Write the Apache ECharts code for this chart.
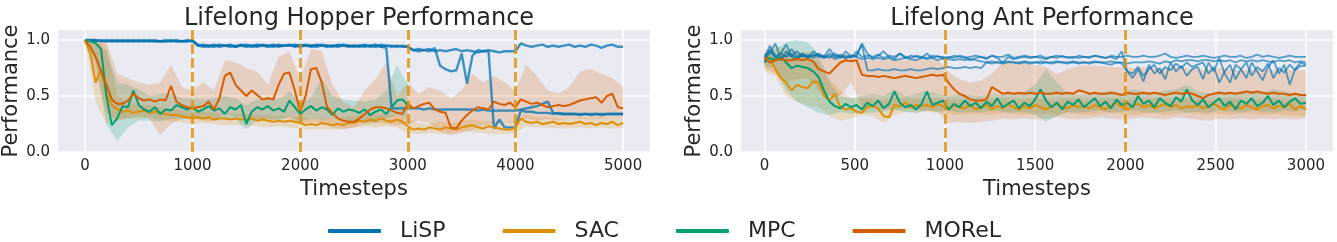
<!DOCTYPE html>
<html>
<head>
    <meta charset="utf-8">
    <title>Lifelong Performance</title>
    <script src="https://cdn.jsdelivr.net/npm/echarts@6/dist/echarts.min.js"></script>
    <style>
        html, body { margin: 0; padding: 0; background: #fff; }
        #chart { width: 1337px; height: 242px; }
    </style>
</head>
<body>
<div id="chart"></div>
<script type="text/javascript">
    // ---- data ----
    // Hopper: means every 50 steps, bands every 100 steps
    const hopperLispA = [
        1.00, 0.99, 1.00, 0.99, 0.99, 1.00, 0.99, 0.99, 1.00, 0.99,
        0.99, 1.00, 0.99, 0.99, 0.99, 1.00, 0.99, 0.99, 0.99, 0.99,
        0.99, 0.95, 0.94, 0.95, 0.96, 0.94, 0.95, 0.95, 0.94, 0.96,
        0.95, 0.94, 0.95, 0.96, 0.95, 0.94, 0.95, 0.95, 0.96, 0.94,
        0.95, 0.96, 0.95, 0.94, 0.95, 0.95, 0.94, 0.96, 0.95, 0.94,
        0.95, 0.95, 0.94, 0.95, 0.96, 0.94, 0.95, 0.94, 0.95, 0.94,
        0.94, 0.91, 0.90, 0.91, 0.92, 0.90, 0.91, 0.90, 0.91, 0.92,
        0.90, 0.91, 0.90, 0.89, 0.90, 0.91, 0.90, 0.89, 0.90, 0.90,
        0.90, 0.97, 0.95, 0.94, 0.95, 0.96, 0.94, 0.95, 0.94, 0.95,
        0.96, 0.94, 0.95, 0.94, 0.96, 0.95, 0.93, 0.95, 0.96, 0.94,
        0.94];
    const hopperLispB = [
        1.00, 1.00, 0.99, 1.00, 0.99, 0.99, 1.00, 0.99, 0.99, 1.00,
        0.99, 0.99, 1.00, 0.99, 0.99, 0.99, 1.00, 0.99, 0.99, 1.00,
        0.99, 0.96, 0.95, 0.94, 0.95, 0.96, 0.95, 0.94, 0.95, 0.95,
        0.94, 0.95, 0.96, 0.95, 0.94, 0.95, 0.96, 0.95, 0.95, 0.95,
        0.96, 0.95, 0.94, 0.95, 0.96, 0.95, 0.95, 0.94, 0.95, 0.95,
        0.94, 0.95, 0.96, 0.94, 0.95, 0.94, 0.93, 0.39, 0.39, 0.39,
        0.39, 0.39, 0.39, 0.38, 0.39, 0.38, 0.38, 0.38, 0.38, 0.38,
        0.38, 0.38, 0.38, 0.37, 0.38, 0.37, 0.37, 0.37, 0.37, 0.37,
        0.37, 0.38, 0.39, 0.40, 0.41, 0.43, 0.45, 0.35, 0.34, 0.34,
        0.34, 0.34, 0.34, 0.34, 0.33, 0.34, 0.34, 0.34, 0.34, 0.34,
        0.34];
    const hopperLispC = [
        0.99, 1.00, 1.00, 0.99, 1.00, 0.99, 0.99, 1.00, 0.99, 0.99,
        1.00, 0.99, 0.99, 1.00, 0.99, 0.99, 0.99, 1.00, 0.99, 0.99,
        1.00, 0.95, 0.96, 0.95, 0.94, 0.95, 0.95, 0.96, 0.94, 0.95,
        0.96, 0.95, 0.94, 0.95, 0.95, 0.96, 0.94, 0.95, 0.95, 0.96,
        0.94, 0.95, 0.95, 0.96, 0.95, 0.94, 0.95, 0.95, 0.96, 0.95,
        0.95, 0.94, 0.95, 0.95, 0.94, 0.96, 0.95, 0.95, 0.94, 0.95,
        0.94, 0.91, 0.92, 0.91, 0.90, 0.93, 0.77, 0.74, 0.72, 0.73,
        0.88, 0.61, 0.86, 0.91, 0.90, 0.90, 0.21, 0.29, 0.22, 0.22,
        0.22, 0.37, 0.36, 0.36, 0.35, 0.35, 0.35, 0.34, 0.35, 0.34,
        0.34, 0.34, 0.33, 0.34, 0.34, 0.34, 0.33, 0.34, 0.34, 0.34,
        0.34];
    const hopperSac = [
        1.00, 0.88, 0.62, 0.74, 0.52, 0.42, 0.38, 0.36, 0.37, 0.35,
        0.36, 0.37, 0.35, 0.36, 0.35, 0.34, 0.33, 0.33, 0.32, 0.31,
        0.30, 0.31, 0.30, 0.31, 0.29, 0.30, 0.30, 0.29, 0.30, 0.29,
        0.29, 0.30, 0.28, 0.29, 0.28, 0.27, 0.28, 0.27, 0.28, 0.27,
        0.26, 0.24, 0.25, 0.24, 0.26, 0.25, 0.24, 0.25, 0.24, 0.26,
        0.26, 0.28, 0.27, 0.29, 0.28, 0.30, 0.28, 0.27, 0.29, 0.27,
        0.23, 0.20, 0.21, 0.20, 0.22, 0.21, 0.20, 0.22, 0.21, 0.20,
        0.22, 0.23, 0.24, 0.22, 0.21, 0.23, 0.22, 0.21, 0.20, 0.20,
        0.22, 0.30, 0.27, 0.26, 0.27, 0.25, 0.26, 0.27, 0.25, 0.26,
        0.25, 0.26, 0.27, 0.25, 0.26, 0.24, 0.26, 0.25, 0.27, 0.24,
        0.26];
    const hopperSacLo = [
        1.00, 0.45, 0.25, 0.30, 0.30, 0.30, 0.31, 0.29, 0.28, 0.26,
        0.25, 0.26, 0.25, 0.24, 0.24, 0.24, 0.23, 0.22, 0.23, 0.22,
        0.21, 0.20, 0.20, 0.20, 0.21, 0.22, 0.23, 0.22, 0.23, 0.22,
        0.17, 0.16, 0.17, 0.16, 0.17, 0.18, 0.18, 0.17, 0.16, 0.16,
        0.17, 0.23, 0.22, 0.22, 0.21, 0.21, 0.22, 0.21, 0.22, 0.21,
        0.22];
    const hopperSacHi = [
        1.00, 1.00, 0.95, 0.50, 0.44, 0.42, 0.42, 0.40, 0.39, 0.37,
        0.36, 0.36, 0.35, 0.35, 0.34, 0.34, 0.33, 0.33, 0.32, 0.32,
        0.31, 0.30, 0.30, 0.30, 0.31, 0.32, 0.34, 0.33, 0.34, 0.33,
        0.30, 0.26, 0.25, 0.27, 0.26, 0.28, 0.29, 0.28, 0.27, 0.26,
        0.28, 0.34, 0.31, 0.31, 0.30, 0.30, 0.31, 0.30, 0.31, 0.30,
        0.30];
    // MPC only runs to 3000 in the hopper task
    const hopperMpc = [
        1.00, 0.99, 0.97, 0.92, 0.50, 0.24, 0.30, 0.41, 0.40, 0.55,
        0.42, 0.38, 0.36, 0.40, 0.34, 0.38, 0.37, 0.42, 0.40, 0.38,
        0.40, 0.36, 0.38, 0.41, 0.37, 0.39, 0.34, 0.40, 0.38, 0.42,
        0.25, 0.36, 0.40, 0.38, 0.41, 0.37, 0.39, 0.36, 0.46, 0.40,
        0.34, 0.38, 0.41, 0.37, 0.40, 0.38, 0.33, 0.39, 0.36, 0.38,
        0.37, 0.35, 0.38, 0.33, 0.36, 0.38, 0.34, 0.40, 0.46, 0.47,
        0.42];
    const hopperMpcLo = [
        1.00, 0.80, 0.25, 0.10, 0.22, 0.28, 0.28, 0.27, 0.30, 0.29,
        0.30, 0.29, 0.30, 0.30, 0.29, 0.20, 0.29, 0.30, 0.28, 0.32,
        0.27, 0.30, 0.29, 0.30, 0.28, 0.28, 0.27, 0.26, 0.30, 0.33,
        0.30];
    const hopperMpcHi = [
        1.00, 1.00, 0.90, 0.62, 0.60, 0.56, 0.50, 0.52, 0.52, 0.48,
        0.48, 0.47, 0.48, 0.50, 0.48, 0.42, 0.47, 0.48, 0.47, 0.54,
        0.44, 0.48, 0.66, 0.50, 0.47, 0.46, 0.45, 0.47, 0.55, 0.78,
        0.60];
    const hopperMorel = [
        1.00, 0.94, 0.85, 0.72, 0.60, 0.47, 0.43, 0.43, 0.46, 0.52,
        0.48, 0.46, 0.47, 0.45, 0.47, 0.46, 0.59, 0.45, 0.42, 0.40,
        0.39, 0.40, 0.41, 0.45, 0.38, 0.48, 0.68, 0.71, 0.60, 0.55,
        0.50, 0.55, 0.51, 0.47, 0.48, 0.47, 0.60, 0.70, 0.71, 0.55,
        0.36, 0.50, 0.74, 0.75, 0.62, 0.40, 0.35, 0.30, 0.28, 0.27,
        0.27, 0.30, 0.34, 0.38, 0.40, 0.40, 0.39, 0.37, 0.35, 0.34,
        0.43, 0.39, 0.41, 0.43, 0.44, 0.38, 0.36, 0.35, 0.22, 0.21,
        0.28, 0.33, 0.37, 0.40, 0.39, 0.38, 0.45, 0.43, 0.42, 0.44,
        0.40, 0.47, 0.45, 0.43, 0.44, 0.42, 0.40, 0.41, 0.42, 0.41,
        0.42, 0.44, 0.46, 0.47, 0.48, 0.49, 0.44, 0.50, 0.52, 0.40,
        0.39];
    const hopperMorelLo = [
        1.00, 0.70, 0.35, 0.28, 0.30, 0.32, 0.30, 0.15, 0.25, 0.30,
        0.30, 0.28, 0.28, 0.35, 0.32, 0.30, 0.29, 0.28, 0.30, 0.30,
        0.25, 0.27, 0.26, 0.22, 0.20, 0.22, 0.25, 0.26, 0.25, 0.24,
        0.25, 0.28, 0.26, 0.18, 0.15, 0.17, 0.20, 0.24, 0.25, 0.26,
        0.26, 0.30, 0.28, 0.30, 0.28, 0.30, 0.30, 0.29, 0.30, 0.30,
        0.30];
    const hopperMorelHi = [
        1.00, 1.00, 0.98, 0.70, 0.66, 0.62, 0.60, 0.62, 0.78, 0.58,
        0.55, 0.62, 0.55, 0.82, 0.80, 0.75, 0.72, 0.60, 0.85, 0.90,
        0.65, 0.92, 0.90, 0.60, 0.45, 0.40, 0.55, 0.65, 0.80, 0.50,
        0.62, 0.52, 0.58, 0.55, 0.48, 0.55, 0.70, 0.62, 0.68, 0.62,
        0.55, 0.78, 0.68, 0.55, 0.52, 0.58, 0.72, 0.74, 0.70, 0.66,
        0.58];

    // Ant: means every 30 steps, bands every 60 steps
    const antLisp1 = [
        0.86, 0.90, 0.84, 0.88, 0.85, 0.87, 0.84, 0.86, 0.85, 0.87,
        0.85, 0.86, 0.84, 0.88, 0.85, 0.86, 0.84, 0.90, 0.85, 0.86,
        0.85, 0.87, 0.84, 0.86, 0.85, 0.88, 0.85, 0.84, 0.86, 0.85,
        0.84, 0.86, 0.85, 0.85, 0.84, 0.86, 0.85, 0.84, 0.85, 0.86,
        0.85, 0.84, 0.86, 0.85, 0.85, 0.87, 0.84, 0.85, 0.86, 0.85,
        0.85, 0.86, 0.84, 0.85, 0.86, 0.85, 0.85, 0.84, 0.86, 0.85,
        0.85, 0.86, 0.85, 0.84, 0.86, 0.85, 0.85, 0.86, 0.85, 0.85,
        0.86, 0.85, 0.85, 0.86, 0.88, 0.85, 0.84, 0.85, 0.86, 0.85,
        0.85, 0.86, 0.85, 0.84, 0.85, 0.86, 0.85, 0.85, 0.86, 0.84,
        0.85, 0.87, 0.85, 0.86, 0.85, 0.84, 0.85, 0.86, 0.85, 0.85,
        0.85];
    const antLisp2 = [
        0.84, 0.95, 0.86, 0.82, 0.90, 0.85, 0.83, 0.88, 0.84, 0.86,
        0.87, 0.84, 0.86, 0.83, 0.85, 0.84, 0.86, 0.85, 0.83, 0.84,
        0.83, 0.84, 0.83, 0.84, 0.82, 0.83, 0.84, 0.83, 0.82, 0.84,
        0.83, 0.84, 0.82, 0.84, 0.83, 0.82, 0.83, 0.82, 0.83, 0.82,
        0.81, 0.80, 0.81, 0.80, 0.80, 0.81, 0.80, 0.80, 0.81, 0.80,
        0.80, 0.81, 0.80, 0.80, 0.81, 0.80, 0.80, 0.81, 0.80, 0.80,
        0.80, 0.81, 0.80, 0.80, 0.81, 0.80, 0.80, 0.79, 0.80, 0.80,
        0.80, 0.81, 0.80, 0.79, 0.81, 0.80, 0.82, 0.81, 0.82, 0.82,
        0.81, 0.82, 0.82, 0.81, 0.82, 0.81, 0.82, 0.80, 0.82, 0.81,
        0.82, 0.81, 0.82, 0.81, 0.80, 0.82, 0.81, 0.82, 0.80, 0.81,
        0.80];
    const antLisp3 = [
        0.80, 0.92, 0.85, 0.88, 0.96, 0.86, 0.90, 0.85, 0.87, 0.84,
        0.88, 0.85, 0.92, 0.86, 0.84, 0.90, 0.85, 0.87, 0.96, 0.73,
        0.73, 0.74, 0.73, 0.73, 0.74, 0.73, 0.73, 0.74, 0.73, 0.73,
        0.74, 0.75, 0.74, 0.75, 0.76, 0.75, 0.75, 0.76, 0.75, 0.76,
        0.75, 0.80, 0.79, 0.80, 0.79, 0.80, 0.80, 0.79, 0.80, 0.79,
        0.80, 0.79, 0.80, 0.79, 0.80, 0.80, 0.79, 0.80, 0.79, 0.80,
        0.79, 0.80, 0.80, 0.79, 0.78, 0.80, 0.79, 0.72, 0.70, 0.76,
        0.68, 0.74, 0.78, 0.70, 0.76, 0.73, 0.79, 0.75, 0.80, 0.76,
        0.78, 0.80, 0.70, 0.76, 0.62, 0.72, 0.78, 0.65, 0.74, 0.80,
        0.68, 0.76, 0.72, 0.79, 0.66, 0.75, 0.71, 0.78, 0.73, 0.77,
        0.77];
    const antLisp4 = [
        0.82, 0.88, 0.97, 0.84, 0.86, 0.92, 0.85, 0.88, 0.84, 0.90,
        0.86, 0.84, 0.88, 0.85, 0.87, 0.84, 0.86, 0.85, 0.97, 0.88,
        0.84, 0.86, 0.90, 0.85, 0.83, 0.88, 0.84, 0.86, 0.85, 0.84,
        0.88, 0.84, 0.86, 0.83, 0.85, 0.84, 0.86, 0.85, 0.82, 0.84,
        0.85, 0.83, 0.86, 0.84, 0.80, 0.85, 0.83, 0.84, 0.85, 0.84,
        0.85, 0.84, 0.83, 0.85, 0.84, 0.86, 0.84, 0.85, 0.84, 0.85,
        0.84, 0.86, 0.85, 0.84, 0.85, 0.83, 0.90, 0.72, 0.66, 0.74,
        0.63, 0.78, 0.70, 0.75, 0.65, 0.80, 0.72, 0.77, 0.68, 0.74,
        0.76, 0.65, 0.80, 0.72, 0.84, 0.70, 0.62, 0.78, 0.74, 0.66,
        0.80, 0.72, 0.64, 0.76, 0.82, 0.70, 0.78, 0.60, 0.74, 0.80,
        0.78];
    const antSac = [
        0.80, 0.85, 0.74, 0.66, 0.62, 0.55, 0.60, 0.58, 0.57, 0.63,
        0.62, 0.50, 0.46, 0.52, 0.40, 0.38, 0.39, 0.36, 0.35, 0.40,
        0.41, 0.39, 0.32, 0.31, 0.42, 0.41, 0.44, 0.40, 0.42, 0.41,
        0.42, 0.40, 0.43, 0.41, 0.38, 0.42, 0.40, 0.39, 0.42, 0.38,
        0.40, 0.42, 0.38, 0.41, 0.39, 0.43, 0.40, 0.38, 0.41, 0.39,
        0.42, 0.40, 0.38, 0.41, 0.43, 0.40, 0.39, 0.42, 0.40, 0.41,
        0.39, 0.42, 0.40, 0.38, 0.41, 0.44, 0.40, 0.38, 0.41, 0.43,
        0.40, 0.42, 0.39, 0.41, 0.43, 0.40, 0.42, 0.39, 0.41, 0.40,
        0.42, 0.39, 0.41, 0.43, 0.40, 0.38, 0.42, 0.40, 0.39, 0.42,
        0.40, 0.38, 0.41, 0.42, 0.39, 0.41, 0.40, 0.43, 0.38, 0.41,
        0.38];
    const antSacLo = [
        0.72, 0.68, 0.50, 0.45, 0.42, 0.40, 0.32, 0.28, 0.30, 0.33,
        0.32, 0.26, 0.33, 0.36, 0.35, 0.36, 0.35, 0.34, 0.33, 0.34,
        0.34, 0.33, 0.35, 0.34, 0.33, 0.34, 0.34, 0.33, 0.35, 0.34,
        0.33, 0.34, 0.35, 0.34, 0.33, 0.34, 0.35, 0.33, 0.34, 0.35,
        0.34, 0.33, 0.34, 0.33, 0.35, 0.34, 0.33, 0.34, 0.33, 0.32,
        0.32];
    const antSacHi = [
        0.88, 0.95, 0.92, 0.90, 0.85, 0.80, 0.65, 0.55, 0.48, 0.48,
        0.47, 0.46, 0.48, 0.48, 0.47, 0.48, 0.47, 0.47, 0.46, 0.47,
        0.46, 0.47, 0.48, 0.46, 0.47, 0.48, 0.47, 0.46, 0.48, 0.47,
        0.46, 0.47, 0.48, 0.47, 0.46, 0.47, 0.48, 0.47, 0.46, 0.48,
        0.47, 0.46, 0.47, 0.48, 0.47, 0.46, 0.47, 0.48, 0.46, 0.47,
        0.46];
    const antMpc = [
        0.80, 0.84, 0.82, 0.85, 0.80, 0.75, 0.77, 0.76, 0.75, 0.72,
        0.67, 0.55, 0.45, 0.41, 0.39, 0.43, 0.40, 0.42, 0.38, 0.44,
        0.41, 0.46, 0.39, 0.43, 0.54, 0.44, 0.40, 0.42, 0.38, 0.43,
        0.54, 0.42, 0.44, 0.46, 0.38, 0.43, 0.40, 0.46, 0.41, 0.44,
        0.39, 0.45, 0.41, 0.48, 0.40, 0.43, 0.46, 0.39, 0.44, 0.41,
        0.47, 0.56, 0.46, 0.40, 0.44, 0.38, 0.45, 0.42, 0.47, 0.40,
        0.44, 0.48, 0.41, 0.45, 0.39, 0.47, 0.42, 0.44, 0.40, 0.50,
        0.43, 0.46, 0.40, 0.48, 0.44, 0.41, 0.49, 0.45, 0.56, 0.46,
        0.42, 0.47, 0.40, 0.44, 0.48, 0.41, 0.45, 0.38, 0.46, 0.43,
        0.48, 0.41, 0.44, 0.50, 0.42, 0.46, 0.40, 0.45, 0.48, 0.43,
        0.44];
    const antMpcLo = [
        0.76, 0.75, 0.55, 0.45, 0.40, 0.35, 0.33, 0.36, 0.34, 0.35,
        0.35, 0.36, 0.38, 0.36, 0.35, 0.37, 0.36, 0.37, 0.35, 0.36,
        0.35, 0.37, 0.36, 0.35, 0.36, 0.33, 0.27, 0.32, 0.36, 0.35,
        0.36, 0.37, 0.35, 0.36, 0.37, 0.36, 0.35, 0.36, 0.37, 0.35,
        0.36, 0.35, 0.37, 0.36, 0.35, 0.37, 0.36, 0.35, 0.37, 0.36,
        0.38];
    const antMpcHi = [
        0.86, 0.92, 0.98, 1.00, 0.98, 0.88, 0.62, 0.50, 0.48, 0.50,
        0.52, 0.50, 0.56, 0.50, 0.52, 0.55, 0.52, 0.50, 0.52, 0.51,
        0.50, 0.52, 0.51, 0.52, 0.54, 0.60, 0.74, 0.62, 0.52, 0.51,
        0.52, 0.53, 0.55, 0.52, 0.56, 0.54, 0.52, 0.55, 0.56, 0.60,
        0.54, 0.52, 0.55, 0.53, 0.54, 0.55, 0.53, 0.56, 0.54, 0.52,
        0.50];
    const antMorel = [
        0.85, 0.80, 0.82, 0.83, 0.82, 0.82, 0.83, 0.82, 0.83, 0.81,
        0.74, 0.72, 0.70, 0.75, 0.80, 0.82, 0.81, 0.82, 0.69, 0.68,
        0.68, 0.67, 0.68, 0.67, 0.66, 0.67, 0.68, 0.67, 0.66, 0.67,
        0.68, 0.69, 0.68, 0.69, 0.62, 0.56, 0.52, 0.50, 0.47, 0.46,
        0.46, 0.47, 0.58, 0.55, 0.52, 0.53, 0.52, 0.53, 0.52, 0.53,
        0.52, 0.53, 0.52, 0.52, 0.53, 0.52, 0.53, 0.52, 0.55, 0.54,
        0.52, 0.53, 0.52, 0.52, 0.53, 0.52, 0.51, 0.53, 0.52, 0.52,
        0.53, 0.52, 0.53, 0.52, 0.51, 0.52, 0.53, 0.52, 0.53, 0.52,
        0.50, 0.48, 0.51, 0.52, 0.53, 0.52, 0.53, 0.52, 0.53, 0.54,
        0.53, 0.54, 0.53, 0.52, 0.53, 0.52, 0.52, 0.51, 0.52, 0.51,
        0.51];
    const antMorelLo = [
        0.75, 0.70, 0.62, 0.65, 0.66, 0.55, 0.50, 0.50, 0.62, 0.40,
        0.40, 0.38, 0.38, 0.39, 0.38, 0.37, 0.36, 0.26, 0.27, 0.26,
        0.27, 0.28, 0.30, 0.29, 0.30, 0.29, 0.30, 0.31, 0.30, 0.29,
        0.30, 0.31, 0.30, 0.29, 0.30, 0.31, 0.30, 0.29, 0.31, 0.30,
        0.29, 0.28, 0.30, 0.29, 0.30, 0.29, 0.30, 0.29, 0.30, 0.29,
        0.30];
    const antMorelHi = [
        0.92, 0.88, 0.90, 0.88, 0.90, 0.88, 0.86, 0.87, 0.88, 0.82,
        0.82, 0.83, 0.82, 0.82, 0.83, 0.82, 0.83, 0.72, 0.65, 0.62,
        0.64, 0.70, 0.80, 0.80, 0.79, 0.78, 0.76, 0.70, 0.74, 0.77,
        0.77, 0.77, 0.76, 0.76, 0.75, 0.76, 0.75, 0.74, 0.76, 0.75,
        0.74, 0.74, 0.75, 0.74, 0.73, 0.74, 0.74, 0.73, 0.74, 0.73,
        0.73];

    const hopperTicks = [0, 1000, 2000, 3000, 4000, 5000];
    const antTicks = [0, 500, 1000, 1500, 2000, 2500, 3000];
    const perfTicks = [0, 0.5, 1.0];
    const hopperTaskSwitches = [1000, 2000, 3000, 4000];
    const antTaskSwitches = [1000, 2000];
    const methods = ['LiSP', 'SAC', 'MPC', 'MOReL'];
    const colors = {LiSP: '#0173b2', SAC: '#de8f05', MPC: '#029e73', MOReL: '#d55e00'};

    // timesteps at which the runs were logged
    function steps(end, step) {
        let out = [];
        for (let x = 0; x <= end; x += step) out.push(x);
        return out;
    }
    const hopperX = steps(5000, 50), hopperBandX = steps(5000, 100);
    const hopperMpcX = steps(3000, 50), hopperMpcBandX = steps(3000, 100);
    const antX = steps(3000, 30), antBandX = steps(3000, 60);

    function rgba(hex, a) {
        let n = parseInt(hex.slice(1), 16);
        return 'rgba(' + (n >> 16) + ',' + ((n >> 8) & 255) + ',' + (n & 255) + ',' + a + ')';
    }

    function line(name, grid, xs, ys, color, width) {
        return {
            name: name, type: 'line', xAxisIndex: grid, yAxisIndex: grid,
            data: xs.map((x, i) => [x, ys[i]]),
            symbol: 'none', silent: true,
            lineStyle: {color: color, width: width},
            itemStyle: {color: color}
        };
    }

    // shaded band between lo and hi, drawn as one polygon through the axes
    function band(key, grid, xs, lo, hi, color) {
        return {
            name: key, type: 'custom', xAxisIndex: grid, yAxisIndex: grid, silent: true,
            data: xs.map((x, i) => [x, lo[i], hi[i]]),
            encode: {x: 0, y: [1, 2]},
            renderItem: function (params, api) {
                if (params.dataIndex !== 0) return null;
                let pts = [];
                xs.forEach((x, i) => pts.push(api.coord([x, hi[i]])));
                for (let i = xs.length - 1; i >= 0; i--) pts.push(api.coord([xs[i], lo[i]]));
                return {type: 'polygon', shape: {points: pts}, style: {fill: rgba(color, 0.2)}};
            }
        };
    }

    function switches(grid, xs) {
        return {
            name: 'task switch', type: 'line', xAxisIndex: grid, yAxisIndex: grid,
            data: [], z: 10, silent: true,
            markLine: {
                silent: true, symbol: ['none', 'none'], label: {show: false},
                lineStyle: {color: rgba('#de8f05', 0.8), width: 3, type: [10, 4]},
                data: xs.map(x => ({xAxis: x}))
            }
        };
    }

    const textColor = '#262626';
    const font = 'DejaVu Sans';

    function xAxis(grid, min, max, ticks) {
        return {
            type: 'value', gridIndex: grid, min: min, max: max,
            name: 'Timesteps', nameLocation: 'middle', nameGap: 26,
            nameTextStyle: {fontSize: 21, color: textColor, fontFamily: font},
            axisLine: {show: false},
            axisTick: {show: false, customValues: ticks},
            axisLabel: {customValues: ticks, fontSize: 15, color: textColor, fontFamily: font, margin: 7,
                formatter: v => String(v)},
            splitLine: {show: true, lineStyle: {color: '#ffffff', width: 1.5}}
        };
    }

    function yAxis(grid) {
        return {
            type: 'value', gridIndex: grid, min: 0, max: 1.09,
            name: 'Performance', nameLocation: 'middle', nameGap: 34,
            nameTextStyle: {fontSize: 21, color: textColor, fontFamily: font},
            axisLine: {show: false},
            axisTick: {show: false, customValues: perfTicks},
            axisLabel: {customValues: perfTicks, fontSize: 15, color: textColor, fontFamily: font, margin: 8,
                formatter: v => v.toFixed(1)},
            splitLine: {show: true, lineStyle: {color: '#ffffff', width: 1.5}}
        };
    }

    let series = [];
    // left: hopper
    [hopperLispA, hopperLispB, hopperLispC].forEach(r => series.push(line('LiSP', 0, hopperX, r, rgba(colors.LiSP, 0.75), 2.4)));
    series.push(band('hSac', 0, hopperBandX, hopperSacLo, hopperSacHi, colors.SAC));
    series.push(line('SAC', 0, hopperX, hopperSac, colors.SAC, 2));
    series.push(band('hMpc', 0, hopperMpcBandX, hopperMpcLo, hopperMpcHi, colors.MPC));
    series.push(line('MPC', 0, hopperMpcX, hopperMpc, colors.MPC, 2));
    series.push(band('hMorel', 0, hopperBandX, hopperMorelLo, hopperMorelHi, colors.MOReL));
    series.push(line('MOReL', 0, hopperX, hopperMorel, colors.MOReL, 2));
    series.push(switches(0, hopperTaskSwitches));
    // right: ant
    [antLisp1, antLisp2, antLisp3, antLisp4].forEach(r => series.push(line('LiSP', 1, antX, r, rgba(colors.LiSP, 0.65), 1.8)));
    series.push(band('aSac', 1, antBandX, antSacLo, antSacHi, colors.SAC));
    series.push(line('SAC', 1, antX, antSac, colors.SAC, 2));
    series.push(band('aMpc', 1, antBandX, antMpcLo, antMpcHi, colors.MPC));
    series.push(line('MPC', 1, antX, antMpc, colors.MPC, 2));
    series.push(band('aMorel', 1, antBandX, antMorelLo, antMorelHi, colors.MOReL));
    series.push(line('MOReL', 1, antX, antMorel, colors.MOReL, 2));
    series.push(switches(1, antTaskSwitches));

    let myChart = echarts.init(document.getElementById('chart'), null, {renderer: 'canvas'});
    myChart.setOption({
        animation: false,
        title: [
            {text: 'Lifelong Hopper Performance', left: 354, top: 2, textAlign: 'center',
                textStyle: {fontSize: 24, fontWeight: 'normal', color: textColor, fontFamily: font}},
            {text: 'Lifelong Ant Performance', left: 1037, top: 2, textAlign: 'center',
                textStyle: {fontSize: 24, fontWeight: 'normal', color: textColor, fontFamily: font}}
        ],
        legend: {
            data: methods.map(m => ({name: m, itemStyle: {color: colors[m], opacity: 1}})),
            left: 323, top: 215,
            icon: 'roundRect', itemWidth: 53, itemHeight: 4, itemGap: 57,
            formatter: name => '  ' + name,
            textStyle: {fontSize: 22, color: textColor, fontFamily: font},
            selectedMode: false
        },
        grid: [
            {left: 58, top: 30, width: 592, height: 122, show: true, backgroundColor: '#eaeaf2', borderWidth: 0},
            {left: 741, top: 30, width: 592, height: 122, show: true, backgroundColor: '#eaeaf2', borderWidth: 0}
        ],
        xAxis: [xAxis(0, -250, 5250, hopperTicks), xAxis(1, -130, 3150, antTicks)],
        yAxis: [yAxis(0), yAxis(1)],
        series: series
    });
</script>
</body>
</html>
